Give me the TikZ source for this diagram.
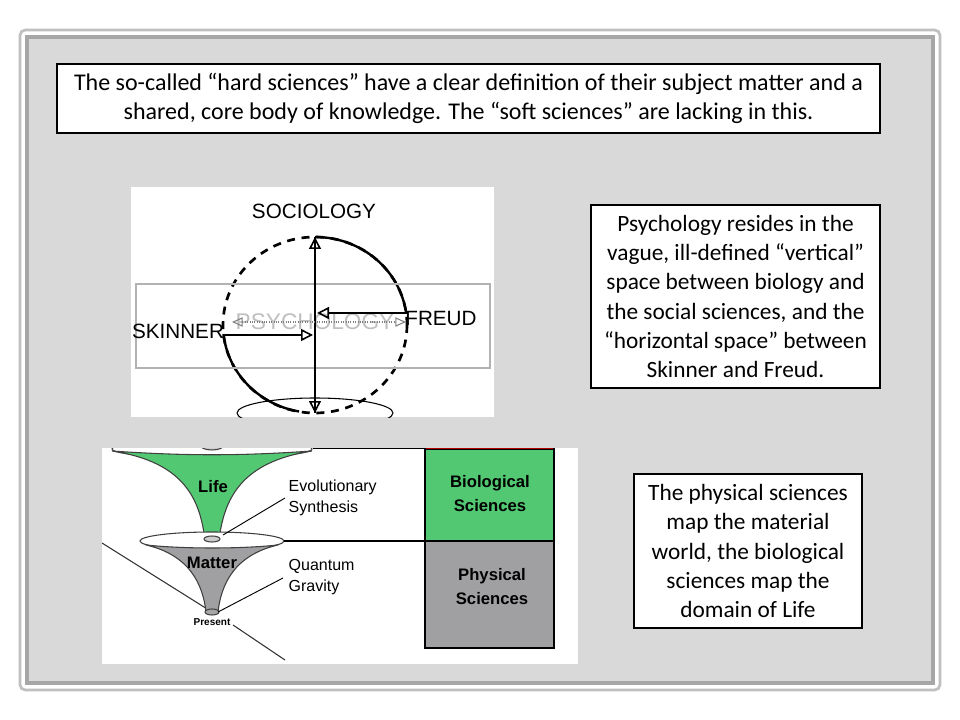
\documentclass[tikz,border=0pt]{standalone}
\usepackage{fontspec}
\setmainfont{Carlito}
\newfontfamily\arial{Liberation Sans}
\usetikzlibrary{arrows.meta}
\definecolor{slidebg}{HTML}{D9D9D9}
\definecolor{bio}{HTML}{52C872}
\definecolor{phys}{HTML}{A0A0A2}
\begin{document}
\begin{tikzpicture}[x=0.75pt,y=-0.75pt,
  tbox/.style={draw=black,fill=white,line width=1pt,align=center,font=\fontsize{18}{22}\selectfont,inner sep=0pt},
  hol/.style={-{Triangle[open,length=9pt,width=9pt]},line width=1.2pt},
  big/.style={font=\arial\fontsize{15.5}{15.5}\selectfont},
  outl/.style={line width=0.8pt,draw=black!75}]
\useasboundingbox (0,0) rectangle (960,720);
\fill[white] (0,0) rectangle (960,720);
\draw[line width=2pt,draw=black!25,fill=white,rounded corners=4] (20,30) rectangle (940,690);
\draw[line width=3pt,draw=black!35,fill=slidebg] (27,37) rectangle (933,683);
% text boxes
\node[tbox,minimum width=823*0.75pt,minimum height=69*0.75pt] (top) at (468.5,98.5) {The so-called “hard sciences” have a clear definition of their subject matter and a\\shared, core body of knowledge. The “soft sciences” are lacking in this.};
\node[tbox,font=\fontsize{17.5}{22}\selectfont,minimum width=289*0.75pt,minimum height=183*0.75pt] (psy) at (735.5,296.5) {Psychology resides in the\\vague, ill-defined “vertical”\\space between biology and\\the social sciences, and the\\“horizontal space” between\\Skinner and Freud.};
\node[tbox,font=\fontsize{17.5}{22}\selectfont,minimum width=228*0.75pt,minimum height=154*0.75pt] (phy) at (748,551) {The physical sciences\\map the material\\world, the biological\\sciences map the\\domain of Life};
% sphere image
\fill[white] (131,187) rectangle (494,417);
\begin{scope}
\clip (131,187) rectangle (494,417);
\draw[line width=0.8pt] (315,413) ellipse (78 and 15);
\draw[line width=2pt,dash pattern=on 6pt off 5pt] (315,325) circle [x radius=92,y radius=88];
\draw[line width=1.8pt] (315,237) arc (-90:-8:92 and 88);
\draw[line width=1.8pt] (223.5,334) arc (174:100:92 and 88);
\end{scope}
\draw[line width=1.5pt,draw=black!30] (136,284) rectangle (490,368);
\node[font=\arial\fontsize{17}{17}\selectfont,text=black!25] (psych) at (315,322) {PSYCHOLOGY};
\coordinate (fr) at (408,313);
\coordinate (sk) at (225,335);
\coordinate (cT) at (315,237);
\coordinate (cB) at (315,413);
\coordinate (cM) at (315,325);
\draw[line width=1pt] (cT) -- (cB);
\draw[hol] (cM) -- (cT);
\draw[hol] (cM) -- (cB);
\draw[hol] (fr) -- (317,313);
\draw[hol] (sk) -- (313,335);
\draw[densely dotted,line width=0.8pt,draw=black!50,{Triangle[open,length=8pt,width=7pt]}-{Triangle[open,length=8pt,width=7pt]}] (232,322) -- (406,322);
\node[big] (soc) at (314,211) {SOCIOLOGY};
\node[big] (skl) at (178,331) {SKINNER};
\node[big] (frl) at (441,318) {FREUD};
% cone image
\fill[white] (102,448) rectangle (578,664);
\begin{scope}
\clip (102,448) rectangle (578,664);
\draw[outl,fill=white] (212,449) ellipse (100 and 9);
\draw[outl,fill=bio] (112,451) .. controls (185,462) and (200,500) .. (205,540) -- (219,540) .. controls (224,500) and (240,462) .. (312,451) .. controls (240,456) and (185,456) .. cycle;
\draw[outl,fill=black!20] (212,445) ellipse (12 and 5);
\draw[black!80,line width=0.8pt] (102,543) -- (212,612);
\draw[black!80,line width=0.8pt] (233,625) -- (285,660);
\draw[outl,fill=white] (212,541) ellipse (72 and 9);
\draw[outl,fill=black!20] (212,539) ellipse (8 and 3);
\draw[outl,fill=phys] (146,545) .. controls (190,555) and (203,585) .. (206,612) -- (218,612) .. controls (221,585) and (234,555) .. (278,545) .. controls (240,549) and (184,549) .. cycle;
\draw[outl,fill=black!35] (212,612) ellipse (7 and 3);
\draw[line width=0.8pt] (313,448) -- (425,448);
\draw[line width=0.8pt] (284,541) -- (425,541);
\draw[line width=0.7pt] (223,535) -- (285,498);
\draw[line width=0.7pt] (218,612) -- (283,578);
\end{scope}
\draw[line width=0.8pt,fill=bio] (425,449) rectangle (554,541);
\draw[line width=0.8pt,fill=phys] (425,541) rectangle (554,648);
\draw[red!70!black,line width=1pt] (426,448.5) -- (553,448.5);
\node[font=\arial\bfseries\fontsize{12.5}{18}\selectfont,align=center] (bl) at (490,494) {Biological\\Sciences};
\node[font=\arial\bfseries\fontsize{12.5}{18}\selectfont,align=center] (pl) at (492,587) {Physical\\Sciences};
\node[font=\arial\bfseries\fontsize{12.5}{12}\selectfont] (life) at (213,487) {Life};
\node[font=\arial\bfseries\fontsize{12.5}{12}\selectfont] (mat) at (212,563) {Matter};
\node[font=\arial\bfseries\fontsize{7.5}{8}\selectfont] (pres) at (212,622) {Present};
\node[anchor=west,align=left,font=\arial\fontsize{12}{16}\selectfont] (evo) at (284,498) {Evolutionary\\Synthesis};
\node[anchor=west,align=left,font=\arial\fontsize{12}{16}\selectfont] (qg) at (284,577) {Quantum\\Gravity};
\end{tikzpicture}
\end{document}
